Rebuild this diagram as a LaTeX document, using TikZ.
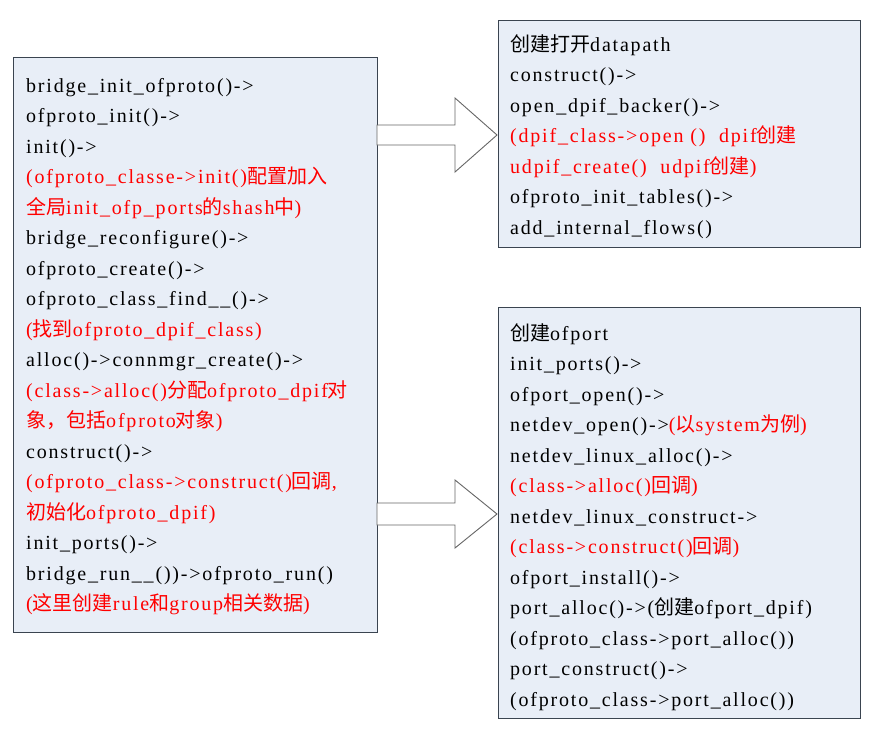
\documentclass[tikz,border=0pt]{standalone}
\usepackage{fontspec}
\setmainfont{Liberation Serif}[LetterSpace=9]
\newfontfamily\cjk{Noto Sans CJK SC}
\newcommand\zh[1]{{\cjk #1}\rmfamily}
\definecolor{boxfill}{HTML}{E8EEF7}
\definecolor{boxline}{HTML}{3A4450}
\tikzset{
  panel/.style={draw=boxline,fill=boxfill,line width=0.9pt},
  ln/.style={anchor=base west,inner sep=0pt,font=\rmfamily\fontsize{20}{22}\selectfont},
  rd/.style={ln,text=red},
  blockarrow/.style={draw=gray!80!black,fill=white,line width=0.9pt,line join=miter}
}
\begin{document}
\begin{tikzpicture}[x=1pt,y=-1pt]
\useasboundingbox (0,0) rectangle (872,732);
\draw[panel] (13,57) rectangle (377,632);
\draw[panel] (498,20) rectangle (860,247);
\draw[panel] (498,307) rectangle (860,718);
% arrows
\draw[blockarrow] (377,125) -- (455,125) -- (455,98) -- (497,135) -- (455,172) -- (455,145) -- (377,145) -- cycle;
\draw[blockarrow] (377,503) -- (455,503) -- (455,480) -- (497,514) -- (455,548) -- (455,525) -- (377,525) -- cycle;
% left
\node[ln] (l1) at (26,92) {bridge\_init\_ofproto()->};
\node[ln] (l2) at (26,122.5) {ofproto\_init()->};
\node[ln] (l3) at (26,153) {init()->};
\node[rd] (l4) at (26,183.5) {(ofproto\_classe->init()\zh{配置加入}};
\node[rd] (l5) at (26,214) {\zh{全局}init\_ofp\_ports\zh{的}shash\zh{中})};
\node[ln] (l6) at (26,244.5) {bridge\_reconfigure()->};
\node[ln] (l7) at (26,275) {ofproto\_create()->};
\node[ln] (l8) at (26,305.5) {ofproto\_class\_find\_\_()->};
\node[rd] (l9) at (26,336) {(\zh{找到}ofproto\_dpif\_class)};
\node[ln] (l10) at (26,366.5) {alloc()->connmgr\_create()->};
\node[rd] (l11) at (26,397) {(class->alloc()\zh{分配}ofproto\_dpif\zh{对}};
\node[rd] (l12) at (26,427.5) {\zh{象，包括}ofproto\zh{对象})};
\node[ln] (l13) at (26,458) {construct()->};
\node[rd] (l14) at (26,488.5) {(ofproto\_class->construct()\zh{回调},};
\node[rd] (l15) at (26,519) {\zh{初始化}ofproto\_dpif)};
\node[ln] (l16) at (26,549.5) {init\_ports()->};
\node[ln] (l17) at (26,580) {bridge\_run\_\_())->ofproto\_run()};
\node[rd] (l18) at (26,610.5) {(\zh{这里创建}rule\zh{和}group\zh{相关数据})};
% top right
\node[ln] (t1) at (510,51) {\zh{创建打开}datapath};
\node[ln] (t2) at (510,81.5) {construct()->};
\node[ln] (t3) at (510,112) {open\_dpif\_backer()->};
\node[rd] (t4) at (510,142.5) {(dpif\_class->open ()\ \ dpif\zh{创建}};
\node[rd] (t5) at (510,173) {udpif\_create()\ \ udpif\zh{创建})};
\node[ln] (t6) at (510,203.5) {ofproto\_init\_tables()->};
\node[ln] (t7) at (510,234) {add\_internal\_flows()};
% bottom right
\node[ln] (b1) at (510,340) {\zh{创建}ofport};
\node[ln] (b2) at (510,370.5) {init\_ports()->};
\node[ln] (b3) at (510,401) {ofport\_open()->};
\node[ln] (b4) at (510,431.5) {netdev\_open()->\textcolor{red}{(\zh{以}system\zh{为例})}};
\node[ln] (b5) at (510,462) {netdev\_linux\_alloc()->};
\node[rd] (b6) at (510,492.5) {(class->alloc()\zh{回调})};
\node[ln] (b7) at (510,523) {netdev\_linux\_construct->};
\node[rd] (b8) at (510,553.5) {(class->construct()\zh{回调})};
\node[ln] (b9) at (510,584) {ofport\_install()->};
\node[ln] (b10) at (510,614.5) {port\_alloc()->(\zh{创建}ofport\_dpif)};
\node[ln] (b11) at (510,645) {(ofproto\_class->port\_alloc())};
\node[ln] (b12) at (510,675.5) {port\_construct()->};
\node[ln] (b13) at (510,706) {(ofproto\_class->port\_alloc())};
\end{tikzpicture}
\end{document}
